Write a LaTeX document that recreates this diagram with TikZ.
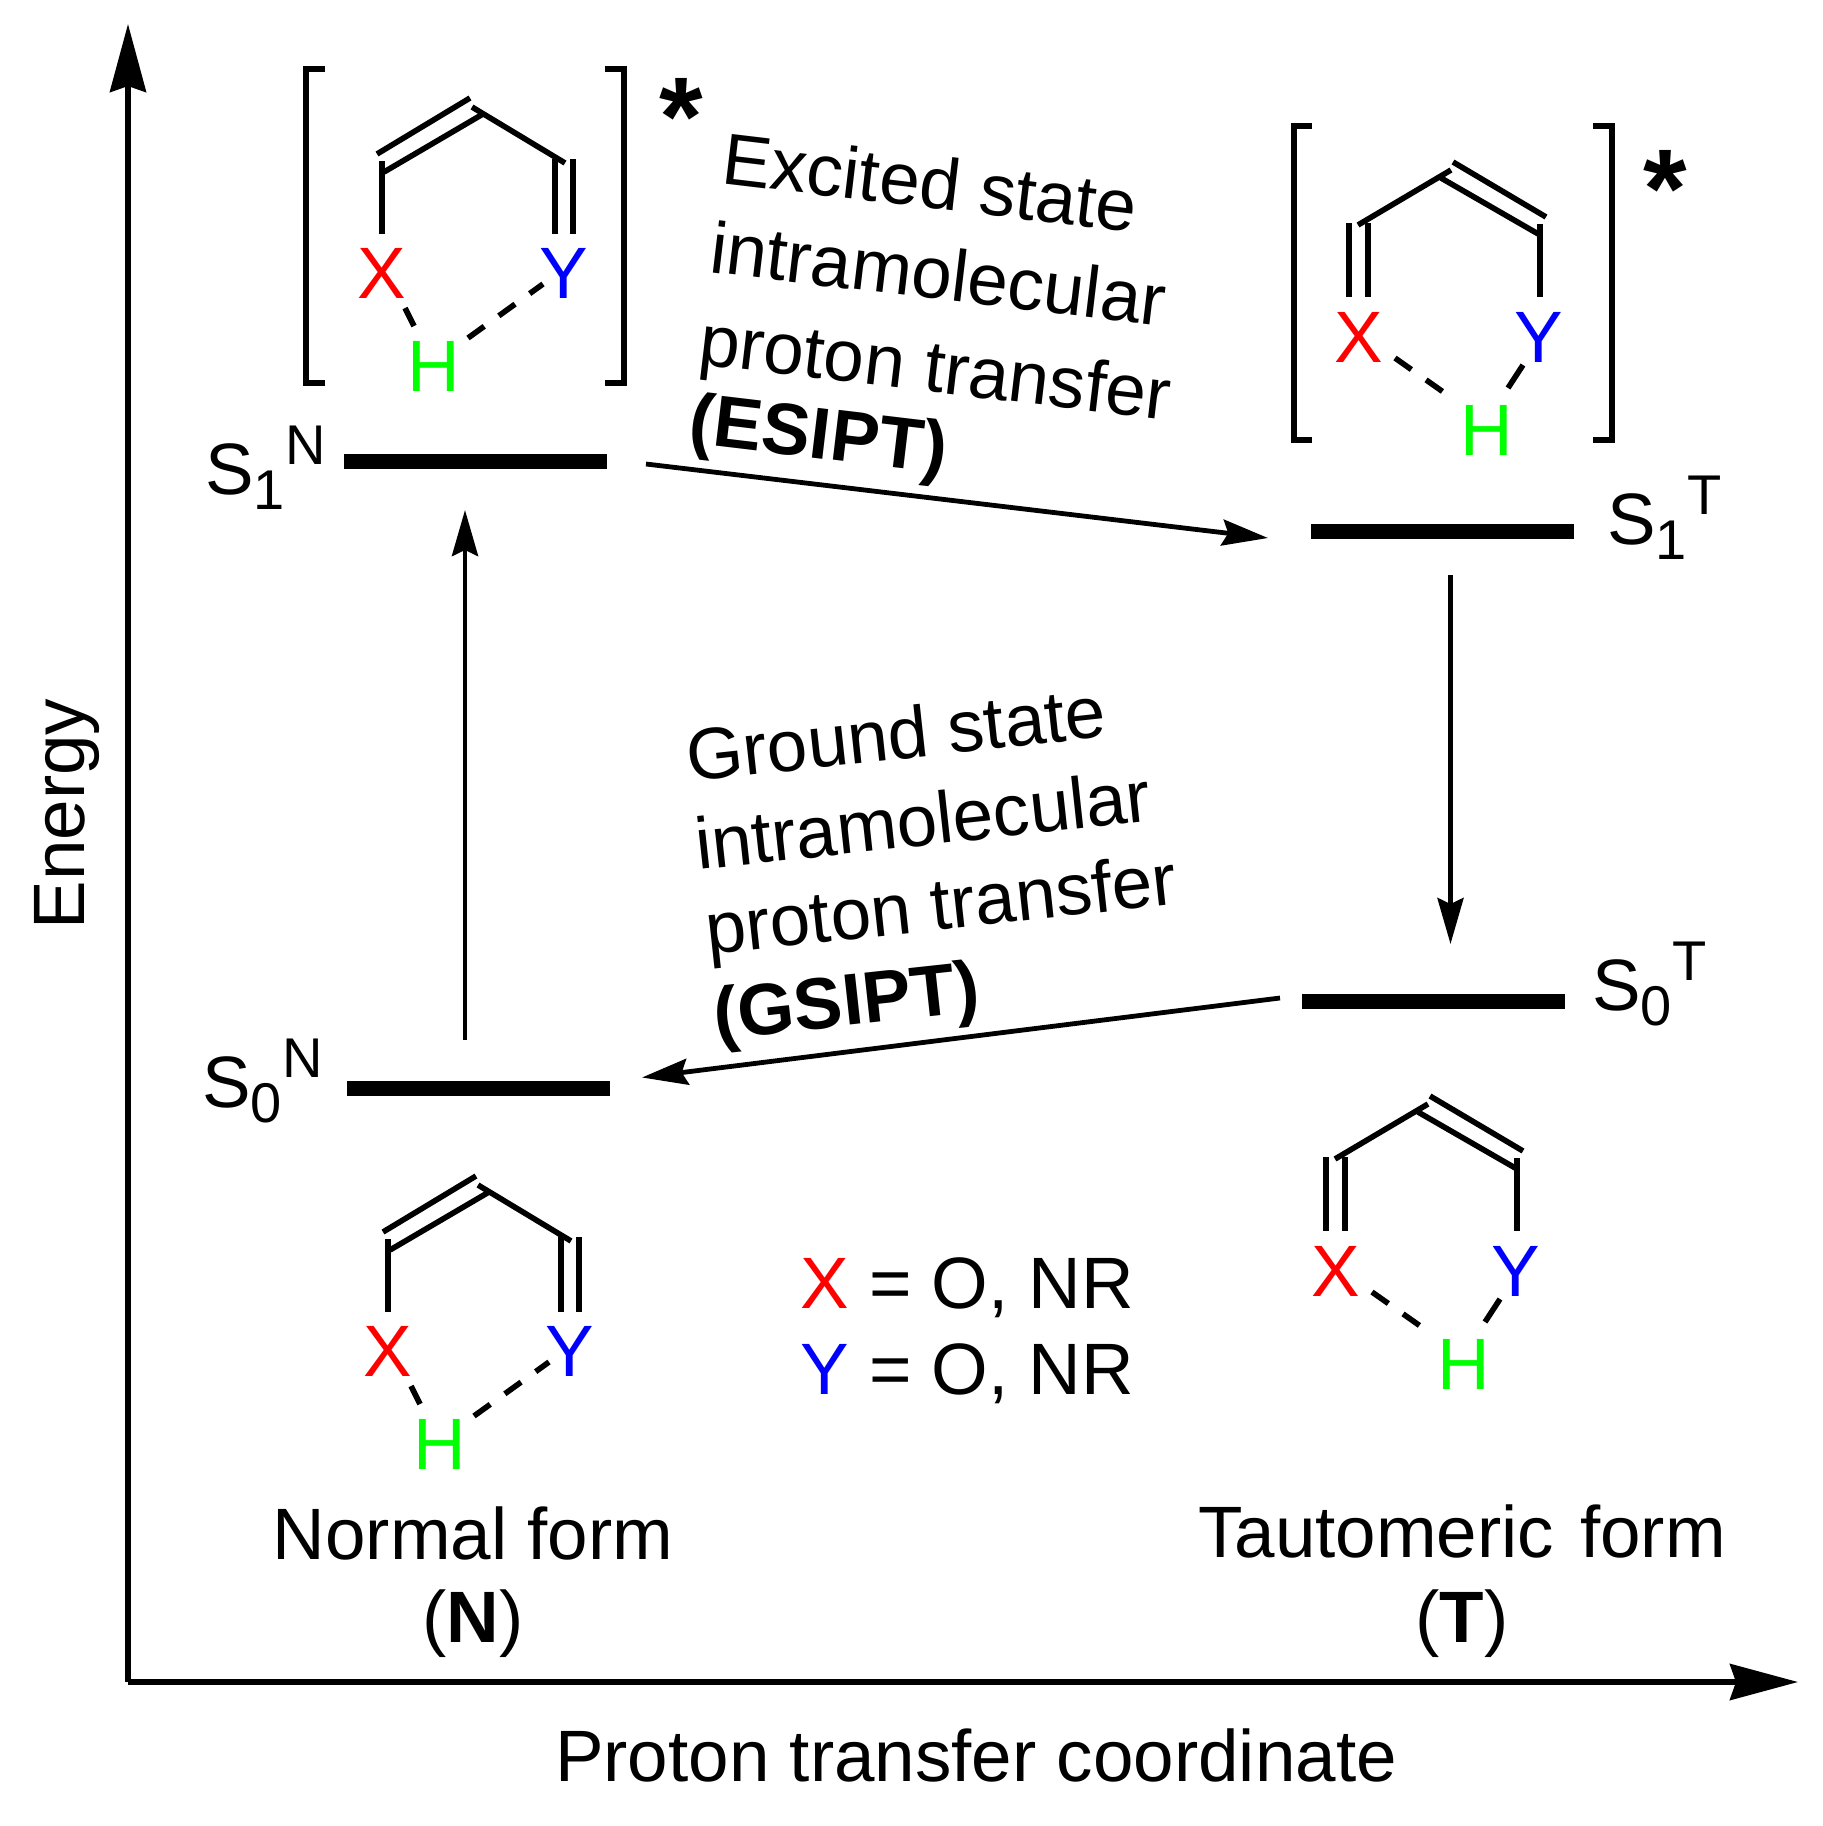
\documentclass[tikz,border=0pt]{standalone}
\usepackage{fontspec}
\setmainfont{Liberation Sans}
\usetikzlibrary{arrows.meta}
\definecolor{xred}{RGB}{255,0,0}
\definecolor{yblue}{RGB}{0,0,255}
\definecolor{hgreen}{RGB}{0,255,0}
\newcommand{\bigf}{\fontsize{36.4}{40}\selectfont}
\newcommand{\lvl}[3]{#1\raisebox{-7.5pt}{\fontsize{28}{30}\selectfont #2}\raisebox{15pt}{\fontsize{28}{30}\selectfont #3}}
\tikzset{
  x=0.5pt, y=-0.5pt,
  txt/.style={font=\bigf, inner sep=0pt, anchor=base west},
  ctxt/.style={font=\bigf, inner sep=0pt, anchor=base},
  atom/.style={font=\bigf, inner sep=0pt, anchor=base},
  bond/.style={line width=2.8pt},
  dbond/.style={line width=2.8pt, dash pattern=on 10pt off 9pt},
  axis/.style={line width=2.7pt, -{Stealth[length=34pt,width=18pt,inset=3pt]}},
  trans/.style={line width=2.4pt, -{Stealth[length=23pt,width=13pt,inset=3pt]}},
  level/.style={fill=black, inner sep=0pt, minimum width=131.5pt, minimum height=7.5pt},
  brack/.style={line width=3pt},
  star/.style={font=\bfseries\fontsize{56}{56}\selectfont, inner sep=0pt, anchor=base},
  molN/.pic={
    \node[atom, text=xred] (-X) at (382,298) {X};
    \node[atom, text=yblue] (-Y) at (564,298) {Y};
    \node[atom, text=hgreen] (-H) at (434,391) {H};
    \draw[bond] (382,161) -- (382,234);
    \draw[bond] (377,154) -- (470,98);
    \draw[bond] (384,172) -- (483,114);
    \draw[bond] (472,107) -- (565,163);
    \draw[bond] (555,159) -- (555,234);
    \draw[bond] (573,159) -- (573,234);
    \draw[bond] (405,308) -- (414,326);
    \draw[dbond] (468,338) -- (543,284);
  },
  molT/.pic={
    \node[atom, text=xred] (-X) at (1336,1296) {X};
    \node[atom, text=yblue] (-Y) at (1516,1296) {Y};
    \node[atom, text=hgreen] (-H) at (1464,1389) {H};
    \draw[bond] (1326,1157) -- (1326,1231);
    \draw[bond] (1345,1157) -- (1345,1231);
    \draw[bond] (1335,1159) -- (1428,1104);
    \draw[bond] (1418,1112) -- (1517,1169);
    \draw[bond] (1430,1096) -- (1523,1151);
    \draw[bond] (1517,1158) -- (1517,1231);
    \draw[dbond] (1372,1292) -- (1433,1335);
    \draw[bond] (1485,1322) -- (1500,1299);
  }
}
\begin{document}
\begin{tikzpicture}
\path[use as bounding box] (0,0) rectangle (1822,1826);
% axes
\coordinate (origin) at (128,1682);
\coordinate (ytip) at (128,24);
\coordinate (xtip) at (1798,1682);
\draw[axis] (origin) -- (ytip);
\draw[axis] (origin) -- (xtip);
\node[ctxt, rotate=90] (energy) at (84,814) {Energy};
\node[ctxt] (xlabel) at (976,1781) {Proton transfer coordinate};
% levels
\node[level] (s1n) at (475.5,461.5) {};
\node[level] (s1t) at (1442.5,531.5) {};
\node[level] (s0t) at (1433.5,1001) {};
\node[level] (s0n) at (478,1088.5) {};
\node[txt] (s1nl) at (205,494) {\lvl{S}{1}{N}};
\node[txt] (s1tl) at (1607,544) {\lvl{S}{1}{T}};
\node[txt] (s0nl) at (202,1107) {\lvl{S}{0}{N}};
\node[txt] (s0tl) at (1592,1010) {\lvl{S}{0}{T}};
% transitions
\coordinate (upa) at (465,1040);
\coordinate (upb) at (465,510);
\coordinate (dna) at (1450.5,575);
\coordinate (dnb) at (1450.5,944);
\coordinate (esa) at (646,464);
\coordinate (esb) at (1268,538);
\coordinate (gsa) at (1280,998);
\coordinate (gsb) at (642,1077.5);
\draw[trans] (upa) -- (upb);
\draw[trans] (dna) -- (dnb);
\draw[trans] (esa) -- (esb);
\draw[trans] (gsa) -- (gsb);
% molecules
\pic (m1) at (0,0) {molN};
\pic (m2) at (6,1078) {molN};
\pic (m3) at (0,0) {molT};
\pic (m4) at (23,-934) {molT};
% brackets
\draw[brack] (325,69) -- (306,69) -- (306,383) -- (325,383);
\draw[brack] (605,69) -- (624,69) -- (624,383) -- (605,383);
\draw[brack] (1312,126) -- (1294,126) -- (1294,440) -- (1312,440);
\draw[brack] (1593,126) -- (1612,126) -- (1612,440) -- (1593,440);
\node[star] (st1) at (681,155) {*};
\node[star] (st2) at (1665,227) {*};
% ESIPT text
\node[txt, rotate=-6.8] (e1) at (720,183) {Excited state};
\node[txt, rotate=-6.8] (e2) at (708,272) {intramolecular};
\node[txt, rotate=-6.8] (e3) at (697,364) {proton transfer};
\node[txt, rotate=-6.8] (e4) at (687,443) {\bfseries(ESIPT)};
% GSIPT text
\node[txt, rotate=6.2] (g1) at (689,782) {Ground state};
\node[txt, rotate=6.2] (g2) at (698,870) {intramolecular};
\node[txt, rotate=6.2] (g3) at (708,955) {proton transfer};
\node[txt, rotate=6.2] (g4) at (716,1040) {\bfseries(GSIPT)};
% legend
\node[txt] (lg1) at (800,1308) {\textcolor{xred}{X} = O, NR};
\node[txt] (lg2) at (800,1394) {\textcolor{yblue}{Y} = O, NR};
% form labels
\node[ctxt] (nf) at (473,1559) {Normal form};
\node[ctxt] (nn) at (473,1642) {(\textbf{N})};
\node[ctxt] (tf) at (1462,1557) {Tautomeric\hspace{3pt} form};
\node[ctxt] (tt) at (1462,1642) {(\textbf{T})};
\end{tikzpicture}
\end{document}
